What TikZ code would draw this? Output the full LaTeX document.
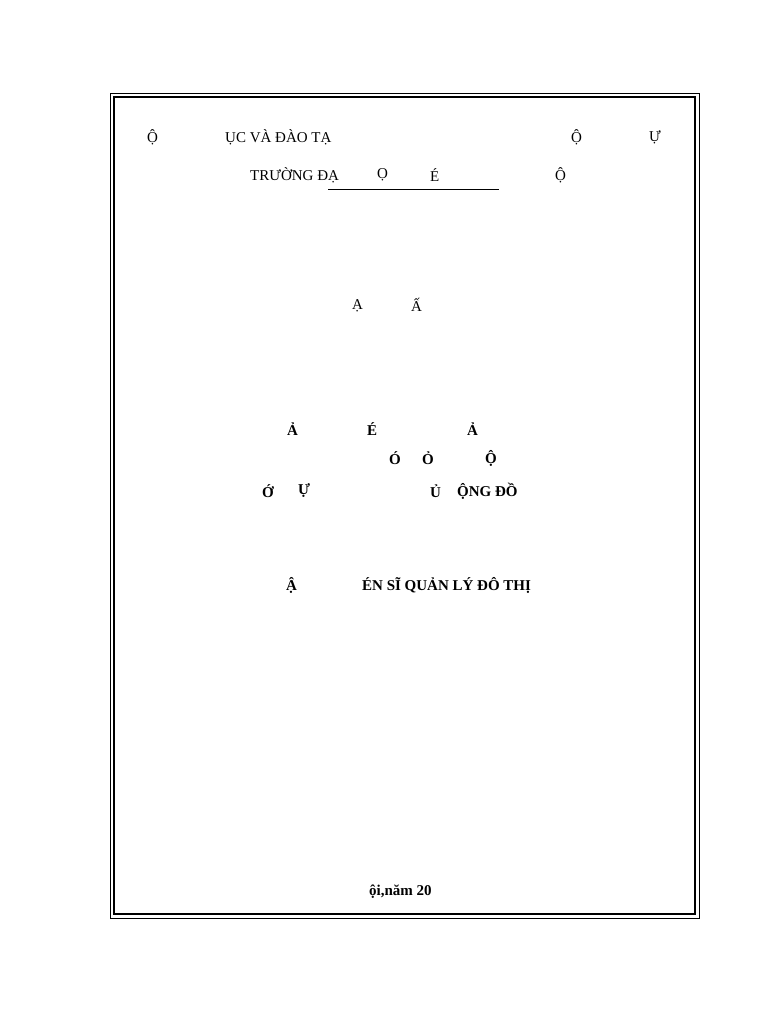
\documentclass[tikz,border=0pt]{standalone}
\usepackage{fontspec}
\setmainfont{Liberation Serif}
\begin{document}
\begin{tikzpicture}[x=1pt,y=-1pt,
  t/.style={anchor=west,inner sep=0pt,font=\fontsize{15}{17}\selectfont},
  tb/.style={t,font=\fontsize{15}{17}\selectfont\bfseries}]
\useasboundingbox (0,0) rectangle (768,1024);
\draw[line width=0.8pt] (110,93) rectangle (699,918);
\draw[line width=2pt] (114,97) rectangle (695,914);
\node[t] (a1) at (147,137) {Ộ};
\node[t] (a2) at (225,137) {ỤC VÀ ĐÀO TẠ};
\node[t] (a3) at (571,137) {Ộ};
\node[t] (a4) at (649,137) {Ự};
\node[t] (b1) at (250,175) {TRƯỜNG ĐẠ};
\node[t] (b2) at (377,175) {Ọ};
\node[t] (b3) at (430,175) {É};
\node[t] (b4) at (555,175) {Ộ};
\draw[line width=0.7pt] (328,189) -- (499,189);
\node[t] (c1) at (352,306) {Ạ};
\node[t] (c2) at (411,305) {Ấ};
\node[tb] (d1) at (287,429) {Ả};
\node[tb] (d2) at (367,429) {É};
\node[tb] (d3) at (467,429) {Ả};
\node[tb] (e1) at (389,458) {Ó};
\node[tb] (e2) at (422,458) {Ỏ};
\node[tb] (e3) at (485,458) {Ộ};
\node[tb] (f1) at (262,491) {Ớ};
\node[tb] (f2) at (298,491) {Ự};
\node[tb] (f3) at (430,491) {Ủ};
\node[tb] (f4) at (457,491) {ỘNG ĐỒ};
\node[tb] (g1) at (286,585) {Ậ};
\node[tb] (g2) at (362,585) {ÉN SĨ QUẢN LÝ ĐÔ THỊ};
\node[tb] (h1) at (369,892) {ội,năm 20};
\end{tikzpicture}
\end{document}
